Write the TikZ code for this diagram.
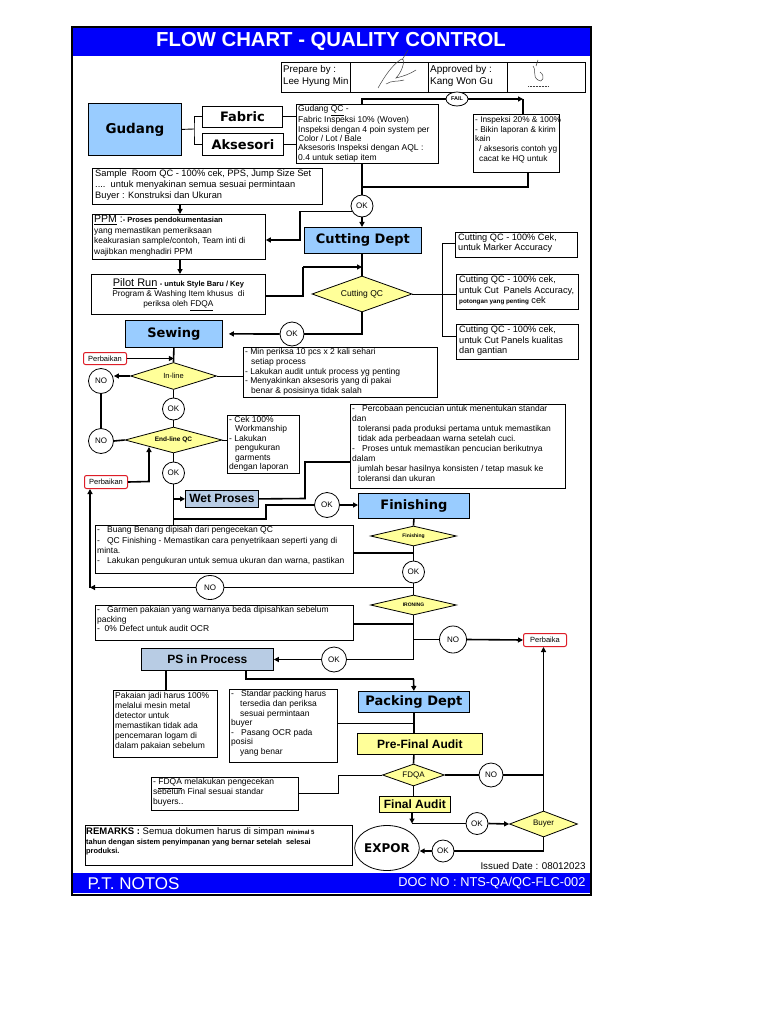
\documentclass[tikz,border=0pt]{standalone}
\usepackage{fontspec}
\setmainfont{Liberation Sans}
\newfontfamily\dvs{DejaVu Sans}
\usetikzlibrary{arrows.meta,shapes.geometric,calc}
\definecolor{titleblue}{RGB}{0,0,250}
\definecolor{boxblue}{RGB}{153,204,255}
\definecolor{steelb}{RGB}{184,204,228}
\definecolor{paleyel}{RGB}{255,255,153}
\definecolor{perbred}{RGB}{222,30,40}
\newcommand\fs[2]{\fontsize{#1}{#2}\selectfont}
\begin{document}
\begin{tikzpicture}[x=1pt,y=-1pt,
  flow/.style={line width=1.6pt},
  thinln/.style={line width=0.9pt},
  arr/.style={-{Triangle[length=5pt,width=5pt]}},
  note/.style={draw,line width=0.8pt,fill=white,anchor=north west,inner sep=0pt},
  txt/.style={anchor=north west,align=left,inner sep=0pt},
  dept/.style={draw,line width=0.8pt,fill=boxblue,anchor=north west,inner sep=0pt,font=\dvs\bfseries\fs{13}{15}},
  stbox/.style={draw,line width=0.8pt,fill=steelb,anchor=north west,inner sep=0pt,font=\bfseries\fs{12}{14}},
  ybox/.style={draw,line width=0.8pt,fill=paleyel,anchor=north west,inner sep=0pt,font=\bfseries\fs{12}{14}},
  wbox/.style={draw,line width=0.8pt,fill=white,anchor=north west,inner sep=0pt,font=\dvs\bfseries\fs{13}{15}},
  dia/.style={draw,diamond,line width=0.8pt,fill=paleyel,inner sep=0pt,aspect=2.5},
  okc/.style={draw,circle,line width=0.8pt,fill=white,minimum size=22pt,inner sep=0pt,font=\fs{8}{9}},
  perb/.style={draw=perbred,line width=1pt,rounded corners=2pt,fill=white,anchor=north west,inner sep=0pt,font=\fs{7.5}{9}},
  sig/.style={line width=0.5pt,draw=black!75},
]
\fill[white] (0,0) rectangle (768,1024);
\useasboundingbox (0,0) rectangle (768,1024);

% frame, title and footer
\fill[titleblue] (71,28) rectangle (591,56);
\node[text=white,font=\bfseries\fs{20.3}{22}] (title) at (331,41.5) {FLOW CHART - QUALITY CONTROL};
\fill[titleblue] (71,873) rectangle (591,893);
\node[text=white,font=\fs{17}{18},anchor=west] (pt) at (84,883.5) {P.T. NOTOS};
\node[text=white,font=\fs{12.8}{14},anchor=east] (docno) at (589,883.5) {DOC NO : NTS-QA/QC-FLC-002};
\node[anchor=east,font=\fs{9.8}{11}] (issued) at (589,866) {Issued Date : 08012023};
\draw[line width=1.2pt] (72,27) rectangle (591,895);

% header
\node[note,minimum width=69pt,minimum height=30pt] (prep) at (281,62) {};
\node[txt,font=\fs{9.7}{12}] (preptxt) at (283,65) {Prepare by :\\Lee Hyung Min};
\node[note,minimum width=78pt,minimum height=30pt] (sig1) at (350,62) {};
\node[note,minimum width=79pt,minimum height=30pt] (appr) at (428,62) {};
\node[txt,font=\fs{10}{12}] (apprtxt) at (430,65) {Approved by :\\Kang Won Gu};
\node[note,minimum width=78pt,minimum height=30pt] (sig2) at (507,62) {};
\draw[sig] (378,88) .. controls (386,74) and (392,66) .. (400,60) .. controls (406,55) and (404,70) .. (396,78) .. controls (404,76) and (410,74) .. (416,70);
\draw[sig] (402,60) -- (408,50);
\draw[sig] (386,84) .. controls (392,80) and (398,82) .. (404,80);
\draw[sig] (533,66) .. controls (537,72) and (532,76) .. (538,80) .. controls (542,84) and (546,76) .. (540,72);
\draw[sig] (536,66) -- (538,60);
\draw[sig,densely dotted] (528,86) -- (548,86);

% Gudang
\node[dept,minimum width=93pt,minimum height=52pt,font=\dvs\bfseries\fs{13.5}{15}] (gud) at (88,103) {Gudang};
\node[wbox,minimum width=80pt,minimum height=21pt] (fab) at (202,106) {Fabric};
\node[wbox,minimum width=81pt,minimum height=22pt] (aks) at (202,133) {Aksesori};
\coordinate (gbr) at (194,129);
\draw[thinln] (gud.east) -- (gbr);
\draw[thinln] (fab.west) -| (gbr) |- (aks.west);
\node[note,minimum width=142pt,minimum height=59pt] (gqc) at (296,104) {};
\node[txt,font=\fs{8.5}{9.4}] (gqctxt) at (298,105.5) {Gudang \underline{QC} -\\Fabric Inspeksi 10\% (Woven)\\Inspeksi dengan 4 poin system per\\Color / Lot / Bale\\Aksesoris Inspeksi dengan AQL :\\0.4 untuk setiap item};
\draw[thinln] (fab.east) -- (fab.east -| gqc.west);
\draw[thinln] (aks.east) -- (aks.east -| gqc.west);

% FAIL loop
\node[note,minimum width=86pt,minimum height=58pt] (insp) at (473,114) {};
\node[txt,font=\fs{8.3}{9.8}] (insptxt) at (475,116) {- Inspeksi 20\% \& 100\%\\- Bikin laporan \& kirim\\kain\\\hspace*{4pt}/ aksesoris contoh yg\\\hspace*{4pt}cacat ke HQ untuk};
\node[draw,ellipse,line width=0.8pt,fill=white,minimum width=22pt,minimum height=14pt,inner sep=0pt,font=\bfseries\fs{5.5}{6}] (fail) at (457,99) {FAIL};
\coordinate (fl) at (362,99);
\coordinate (fr) at (523,99);
\draw[flow] (gqc.north -| fl) -- (fl) -- (fail.west);
\draw[flow,arr] (fail.east) -- (fr);
\draw[flow] (fr) -- (fr |- insp.north);

% Sample room, PPM, Pilot run
\node[note,minimum width=230pt,minimum height=36pt] (samp) at (92,168) {};
\node[txt,font=\fs{9.3}{10.6}] (samptxt) at (95,170) {Sample\ \ Room QC - 100\% cek, PPS, Jump Size Set\\....\ \ untuk menyakinan semua sesuai permintaan\\Buyer : Konstruksi dan Ukuran};
\node[note,minimum width=173pt,minimum height=45pt] (ppm) at (92,214) {};
\node[txt,font=\fs{8.5}{10.4}] (ppmtxt) at (94,215.5) {{\fs{10.5}{12}\underline{PPM} :}{\bfseries\fs{7.5}{10.4}- Proses pendokumentasian}\\yang memastikan pemeriksaan\\keakurasian sample/contoh, Team inti di\\wajibkan menghadiri PPM};
\node[note,minimum width=174pt,minimum height=40pt,align=center,font=\fs{8.3}{10.3}] (pil) at (91,274) {{\fs{11}{12}\underline{Pilot Run}} {\bfseries\fs{7.5}{10.3}- untuk Style Baru / Key}\\Program \& Washing Item khusus\ \ di\\periksa oleh \underline{FDQA}};
\coordinate (xa) at (180,0);
\draw[flow,arr] (samp.south -| xa) -- (ppm.north -| xa);
\draw[flow,arr] (ppm.south -| xa) -- (pil.north -| xa);

% junction and Cutting
\coordinate (jn) at (362,187);
\coordinate (jr) at (528,187);
\node[okc] (ok1) at (362,206) {OK};
\draw[flow] (gqc.south -| jn) -- (jn);
\draw[flow] (insp.south -| jr) -- (jr) -- (jn) -- (ok1.north);
\node[dept,minimum width=117pt,minimum height=26pt] (cut) at (304,227) {Cutting Dept};
\draw[flow,arr] (ok1.south) -- (ok1.south |- cut.north);
\coordinate (c1) at (300,240);
\draw[flow,arr] (ok1.210) -| (c1) -- (c1 -| ppm.east);
\node[dia,minimum width=100pt,minimum height=36pt,font=\fs{8.5}{9}] (cqc) at (362,294) {Cutting QC};
\draw[flow] (ok1.south |- cut.south) -- (cqc.north);
\coordinate (c2) at (303,296);
\coordinate (c3) at (303,267);
\coordinate (c4) at (362,267);
\draw[flow] (pil.east |- c2) -- (c2) -- (c3);
\draw[flow,arr] (c3) -- (c4);

\node[note,minimum width=122pt,minimum height=25pt] (b1) at (455,232) {};
\node[txt,font=\fs{9.2}{10}] (b1txt) at (458,234) {Cutting QC - 100\% Cek,\\untuk Marker Accuracy};
\node[note,minimum width=122pt,minimum height=35pt] (b2) at (456,274) {};
\node[txt,font=\fs{9.2}{10.5}] (b2txt) at (459,276) {Cutting QC - 100\% cek,\\untuk Cut\ \ Panels Accuracy,\\{\bfseries\fs{6.3}{10.5}potongan yang penting} cek};
\node[note,minimum width=122pt,minimum height=35pt] (b3) at (456,324) {};
\node[txt,font=\fs{9.2}{10.5}] (b3txt) at (459,326) {Cutting QC - 100\% cek,\\untuk Cut Panels kualitas\\dan gantian};
\coordinate (bx1) at (442,243);
\coordinate (bx2) at (442,336);
\draw[thinln] (cqc.east) -- (cqc.east -| b2.west);
\draw[thinln] (b1.west |- bx1) -- (bx1) -- (bx2) -- (b3.west |- bx2);

% Sewing
\node[dept,minimum width=97pt,minimum height=27pt] (sew) at (125,320) {Sewing};
\node[okc,minimum size=24pt] (ok2) at (292,334) {OK};
\coordinate (c5) at (362,334);
\draw[flow] (cqc.south) -- (c5) -- (ok2.east);
\draw[flow,arr] (ok2.west) -- ($(sew.east)+(6,0)$);
\node[perb,minimum width=43pt,minimum height=12pt] (pb1) at (83,352) {Perbaikan};
\node[dia,minimum width=86pt,minimum height=27pt,font=\fs{7.5}{8}] (inl) at (173.5,376) {In-line};
\draw[flow] (sew.south) -- (inl.north);
\draw[flow,arr] (pb1.east) -- (pb1.east -| sew.south);
\node[note,minimum width=194pt,minimum height=50pt] (minb) at (243,347) {};
\node[txt,font=\fs{8.5}{9.7}] (minbtxt) at (245,348.5) {- Min periksa 10 pcs x 2 kali sehari\\\hspace*{6pt}setiap process\\- Lakukan audit untuk process yg penting\\- Menyakinkan aksesoris yang di pakai\\\hspace*{6pt}benar \& posisinya tidak salah};
\draw[thinln] (inl.east) -- (inl.east -| minb.west);
\node[okc,minimum size=25pt] (no1) at (101,381) {NO};
\draw[flow,arr] (inl.west) -- (inl.west -| no1.east);
\node[okc] (ok3) at (173.5,409) {OK};
\draw[flow] (inl.south) -- (ok3.north);
\node[dia,minimum width=97pt,minimum height=26pt,font=\bfseries\fs{6.5}{7}] (endl) at (173.5,440) {End-line QC};
\draw[flow] (ok3.south) -- (endl.north);
\node[okc,minimum size=25pt] (no2) at (101,441) {NO};
\draw[flow] (no1.south) -- (no2.north);
\draw[flow] (no2.east) -- (endl.west);
\node[note,minimum width=72pt,minimum height=58pt] (cek) at (227,415) {};
\node[txt,font=\fs{8.5}{9.5}] (cektxt) at (229,416) {- Cek 100\%\\\hspace*{6pt}Workmanship\\- Lakukan\\\hspace*{6pt}pengukuran\\\hspace*{6pt}garments\\dengan laporan};
\draw[thinln] (endl.east) -- (endl.east -| cek.west);
\node[perb,minimum width=43pt,minimum height=13pt] (pb2) at (84,475) {Perbaikan};
\coordinate (c6) at (149,481.5);
\coordinate (c7) at (149,447);
\draw[flow,arr] (pb2.east) -- (c6) -- (c7);
\node[okc] (ok4) at (173.5,473) {OK};
\draw[flow] (endl.south) -- (ok4.north);

% Wet proses and Finishing
\node[stbox,minimum width=73pt,minimum height=17pt] (wet) at (185,490) {Wet Proses};
\node[note,minimum width=215pt,minimum height=84pt] (perc) at (350,404) {};
\node[txt,font=\fs{8.5}{10}] (perctxt) at (352,405.5) {-\ \ \ Percobaan pencucian untuk menentukan standar\\dan\\\hspace*{6pt}toleransi pada produksi pertama untuk memastikan\\\hspace*{6pt}tidak ada perbeadaan warna setelah cuci.\\-\ \ \ Proses untuk memastikan pencucian berikutnya\\dalam\\\hspace*{6pt}jumlah besar hasilnya konsisten / tetap masuk ke\\\hspace*{6pt}toleransi dan ukuran};
\node[note,minimum width=258pt,minimum height=48pt] (buang) at (95,525) {};
\node[txt,font=\fs{8.5}{10.3}] (buangtxt) at (97,526.5) {-\ \ \ Buang Benang dipisah dari pengecekan QC\\-\ \ \ QC Finishing - Memastikan cara penyetrikaan seperti yang di\\minta.\\-\ \ \ Lakukan pengukuran untuk semua ukuran dan warna, pastikan};
\draw[flow] (ok4.south) -- (ok4.south |- buang.north);
\draw[flow,arr] (ok4.south |- wet.west) -- (wet.west);
\coordinate (c9) at (305,498.5);
\coordinate (c10) at (305,462);
\draw[flow] (wet.east) -- (c9) -- (c10) -- (c10 -| perc.west);
\node[okc,minimum size=25pt] (ok5) at (327,505) {OK};
\node[dept,minimum width=111pt,minimum height=25pt] (fin) at (358,493) {Finishing};
\coordinate (c8) at (173.5,519);
\coordinate (c11) at (266,519);
\coordinate (c12) at (266,505);
\draw[flow] (c8) -- (c11) -- (c12) -- (ok5.west);
\draw[flow,arr] (ok5.east) -- (fin.west |- ok5.east);
\node[dia,minimum width=86pt,minimum height=20pt,font=\bfseries\fs{5}{6}] (fdia) at (413.5,536) {Finishing};
\draw[flow] (fin.south) -- (fdia.north);
\coordinate (c13) at (413.5,553);
\draw[flow] (c13 -| buang.east) -- (c13);
\node[okc] (ok6) at (413.5,572) {OK};
\draw[flow] (fdia.south) -- (ok6.north);
\node[draw,ellipse,line width=0.8pt,fill=white,minimum width=28pt,minimum height=24pt,inner sep=0pt,font=\fs{8}{9}] (no3) at (210,587.5) {NO};
\node[dia,minimum width=86pt,minimum height=20pt,font=\bfseries\fs{5}{6}] (idia) at (413.5,605) {IRONING};
\draw[flow] (ok6.south) -- (idia.north);
\coordinate (c14) at (413.5,587.5);
\coordinate (c15) at (90,587.5);
\draw[flow] (c14) -- (no3.east);
\draw[flow,arr] (no3.west) -- (c15);
\draw[flow,arr] (c15) -- (c15 |- pb2.south);
\node[note,minimum width=258pt,minimum height=35pt] (garm) at (95,605) {};
\node[txt,font=\fs{8.5}{9.2}] (garmtxt) at (97,606.5) {-\ \ \ Garmen pakaian yang warnanya beda dipisahkan sebelum\\packing\\-\ \ 0\% Defect untuk audit OCR};
\coordinate (c16) at (413.5,624);
\draw[flow] (c16 -| garm.east) -- (c16);

% NO to Perbaika, PS in process
\node[okc,minimum size=27pt] (no4) at (453,639.5) {NO};
\node[perb,minimum width=43pt,minimum height=13pt] (pb3) at (523,633) {Perbaika};
\coordinate (c17) at (413.5,639.5);
\coordinate (c18) at (413.5,659.5);
\node[okc,minimum size=25pt] (ok7) at (334,659.5) {OK};
\draw[flow] (idia.south) -- (c18) -- (ok7.east);
\draw[flow] (c17) -- (no4.west);
\draw[flow,arr] (no4.east) -- (pb3.west);
\node[stbox,minimum width=132pt,minimum height=22pt] (ps) at (141,648) {PS in Process};
\draw[flow,arr] (ok7.west) -- (ok7.west -| ps.east);
\node[dept,minimum width=111pt,minimum height=21pt] (pack) at (358,691) {Packing Dept};
\coordinate (c19) at (246,679);
\coordinate (c20) at (413.5,679);
\draw[flow] (ps.south -| c19) -- (c19) -- (c20);
\draw[flow,arr] (c20) -- (pack.north);
\node[note,minimum width=104pt,minimum height=67pt] (pak) at (113,690) {};
\node[txt,font=\fs{8.5}{10}] (paktxt) at (115,692) {Pakaian jadi harus 100\%\\melalui mesin metal\\detector untuk\\memastikan tidak ada\\pencemaran logam di\\dalam pakaian sebelum};
\coordinate (xb) at (166,0);
\draw[flow] (ps.south -| xb) -- (pak.north -| xb);
\node[note,minimum width=108pt,minimum height=73pt] (std) at (229,689) {};
\node[txt,font=\fs{8.5}{9.6}] (stdtxt) at (231,690.5) {-\ \ \ Standar packing harus\\\hspace*{9pt}tersedia dan periksa\\\hspace*{9pt}sesuai permintaan\\buyer\\-\ \ \ Pasang OCR pada\\posisi\\\hspace*{9pt}yang benar};
\coordinate (c21) at (413.5,723);
\draw[thinln] (c21 -| std.east) -- (c21);

% audits
\node[ybox,minimum width=125pt,minimum height=21pt] (pre) at (357,733) {Pre-Final Audit};
\draw[flow] (pack.south) -- (pack.south |- pre.north);
\node[dia,minimum width=62pt,minimum height=22pt,font=\fs{8}{9}] (fdqa) at (413.5,775) {FDQA};
\draw[flow] (pack.south |- pre.south) -- (fdqa.north);
\node[okc,minimum size=24pt] (no5) at (491,775) {NO};
\node[dia,minimum width=68pt,minimum height=26pt,font=\fs{8}{9}] (buy) at (543.5,824) {Buyer};
\coordinate (c22) at (543.5,775);
\draw[flow] (fdqa.east) -- (no5.west);
\draw[flow] (no5.east) -- (c22);
\draw[flow,arr] (buy.north) -- (buy.north |- pb3.south);
\node[note,minimum width=147pt,minimum height=33pt] (fnote) at (151,777) {};
\node[txt,font=\fs{8.5}{10}] (fnotetxt) at (153,778.5) {- \underline{FDQA} melakukan pengecekan\\sebelum Final sesuai standar\\buyers..};
\coordinate (c23) at (338,775);
\coordinate (c24) at (338,793);
\draw[thinln] (fdqa.west) -- (c23) -- (c24) -- (c24 -| fnote.east);
\node[ybox,minimum width=71pt,minimum height=16pt] (fa) at (379,796) {Final Audit};
\draw[flow] (fdqa.south) -- (fdqa.south |- fa.north);
\coordinate (c25) at (412,823.5);
\node[okc] (ok8) at (477,823.5) {OK};
\draw[flow,arr] (fa.south -| c25) -- (c25);
\draw[flow] (c25) -- (ok8.west);
\draw[flow,arr] (ok8.east) -- (buy.west);
\node[draw,ellipse,line width=0.8pt,fill=white,minimum width=58pt,minimum height=45pt,inner sep=0pt,font=\dvs\bfseries\fs{12}{14}] (expo) at (387,848) {EXPOR};
\node[okc] (ok9) at (443,851) {OK};
\coordinate (c26) at (543.5,851);
\draw[flow] (buy.south) -- (c26) -- (ok9.east);
\draw[flow,arr] (ok9.west) -- (expo.east |- ok9.west);

% remarks
\node[note,minimum width=267pt,minimum height=40pt] (rem) at (85,825) {};
\node[txt,font=\fs{9.5}{9.5}] (remtxt) at (86,827.5) {{\bfseries REMARKS :} Semua dokumen harus di simpan {\bfseries\fs{6}{8.6}minimal 5}\\{\bfseries\fs{7.4}{8.6}tahun dengan sistem penyimpanan yang bernar setelah\ \ selesai}\\{\bfseries\fs{7.4}{8.6}produksi.}};
\end{tikzpicture}
\end{document}
